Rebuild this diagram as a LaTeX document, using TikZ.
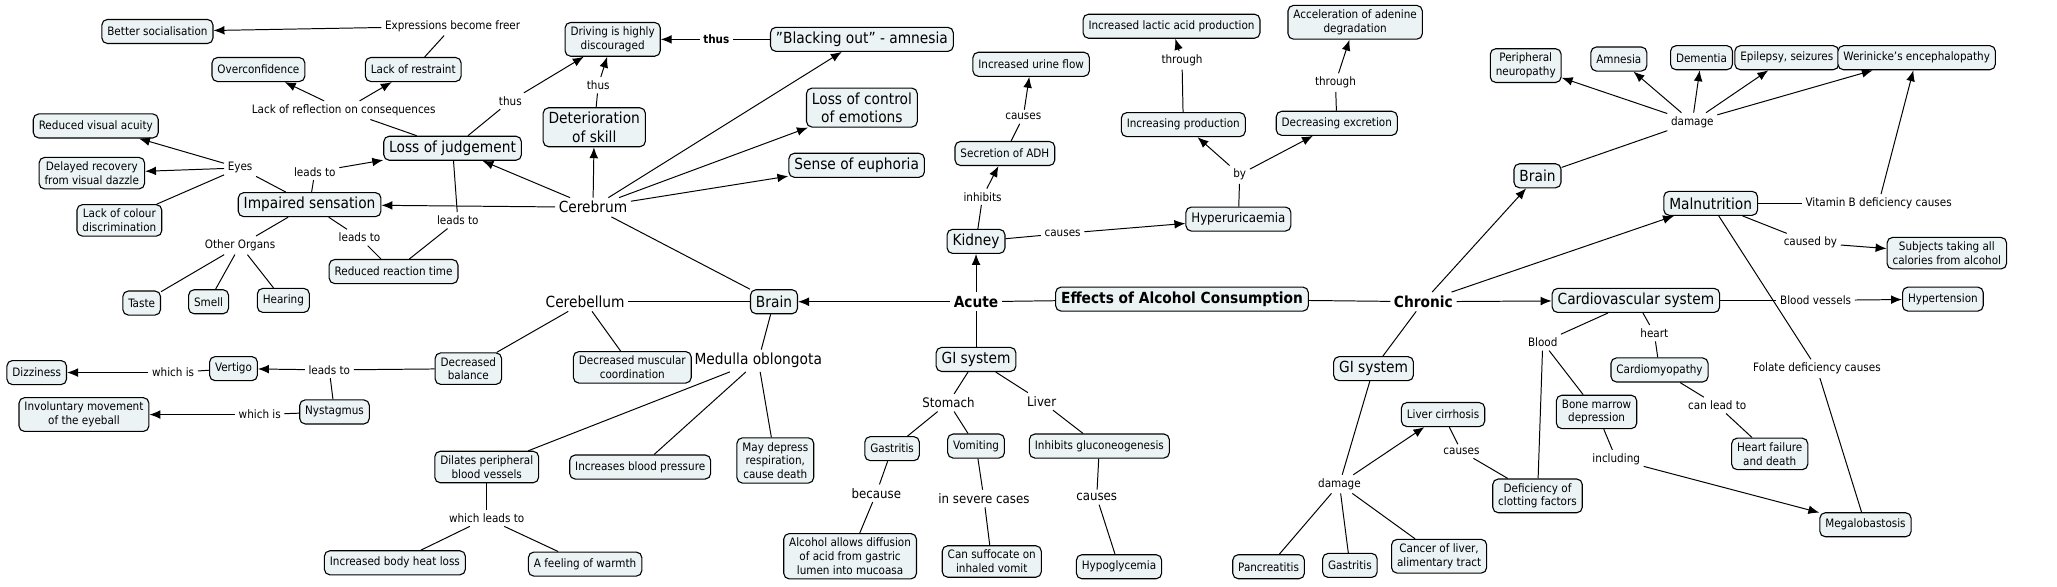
\documentclass[tikz,border=0pt]{standalone}
\usepackage{fontspec}
\setmainfont{DejaVu Sans Condensed}
\usetikzlibrary{arrows.meta}
\begin{document}
\begin{tikzpicture}[x=0.6pt,y=-0.6pt,
 box/.style={draw,rounded corners=2.5pt,fill={rgb,255:red,236;green,243;blue,245},font=\fontsize{5.3}{6.3}\selectfont,align=center,inner xsep=2.5pt,inner ysep=2pt,minimum height=11pt,line width=0.5pt},
 bigbox/.style={box,font=\fontsize{7}{8.4}\selectfont},
 lab/.style={font=\fontsize{5.3}{6.3}\selectfont,inner sep=1.5pt,align=center},
 biglab/.style={lab,font=\fontsize{7}{8.4}\selectfont},
 ln/.style={line width=0.45pt},
 ar/.style={ln,-{Latex[length=5pt,width=4pt]}}]
\useasboundingbox (0,0) rectangle (1568,447);
% left top
\node[box] (bs) at (120,24) {Better socialisation};
\node[lab] (lexpr) at (345,20) {Expressions become freer};
\node[box] (oc) at (197,53) {Overconfidence};
\node[box] (lr) at (315,53) {Lack of restraint};
\node[lab] (lrefl) at (262,84) {Lack of reflection on consequences};
\node[box] (rva) at (73,96) {Reduced visual acuity};
\node[box] (dr) at (70,132) {Delayed recovery\\from visual dazzle};
\node[box] (lcd) at (91,168) {Lack of colour\\discrimination};
\node[lab] (leyes) at (183,128) {Eyes};
\node[bigbox] (is) at (236,156) {Impaired sensation};
\node[lab] (ll1) at (240,131) {leads to};
\node[bigbox] (lj) at (345,113) {Loss of judgement};
\node[lab] (ll3) at (349,168) {leads to};
\node[lab] (ll2) at (274,181) {leads to};
\node[box] (rrt) at (300,207) {Reduced reaction time};
\node[lab] (lother) at (183,187) {Other Organs};
\node[box] (taste) at (108,231) {Taste};
\node[box] (smell) at (159,230) {Smell};
\node[box] (hearing) at (216,229) {Hearing};
\node[box] (dhd) at (467,30) {Driving is highly\\discouraged};
\node[lab] (th1) at (389,77) {thus};
\node[bigbox] (dos) at (453,97) {Deterioration\\of skill};
\node[lab] (th2) at (456,65) {thus};
\node[bigbox] (bo) at (657,30) {"Blacking out" - amnesia};
\node[lab,font=\fontsize{5.3}{6.3}\selectfont\bfseries] (th3) at (546,30) {thus};
\node[bigbox] (lce) at (657,82) {Loss of control\\of emotions};
\node[bigbox] (se) at (653,126) {Sense of euphoria};
\node[biglab] (cer) at (452,158) {Cerebrum};
% brain left
\node[bigbox] (brainL) at (590,230) {Brain};
\node[biglab] (cbl) at (446,230) {Cerebellum};
\node[biglab] (med) at (578,275) {Medulla oblongota};
\node[box] (db) at (357,281) {Decreased\\balance};
\node[box] (dmc) at (482,280) {Decreased muscular\\coordination};
\node[box] (vert) at (178,281) {Vertigo};
\node[lab] (ll4) at (251,282) {leads to};
\node[box] (dizz) at (28,284) {Dizziness};
\node[lab] (wi1) at (132,284) {which is};
\node[box] (nys) at (255,314) {Nystagmus};
\node[box] (inv) at (64,316) {Involuntary movement\\of the eyeball};
\node[lab] (wi2) at (198,316) {which is};
\node[box] (dil) at (371,356) {Dilates peripheral\\blood vessels};
\node[box] (ibp) at (488,356) {Increases blood pressure};
\node[box] (mdr) at (591,351) {May depress\\respiration,\\cause death};
\node[lab] (wlt) at (371,395) {which leads to};
\node[box] (hl) at (301,429) {Increased body heat loss};
\node[box] (fw) at (446,430) {A feeling of warmth};
% center
\node[biglab,font=\fontsize{7}{8.4}\selectfont\bfseries] (acute) at (744,230) {Acute};
\node[bigbox,font=\fontsize{7}{8.4}\selectfont\bfseries] (eff) at (901,228) {Effects of Alcohol Consumption};
\node[biglab,font=\fontsize{7}{8.4}\selectfont\bfseries] (chr) at (1085,230) {Chronic};
\node[bigbox] (gia) at (744,274) {GI system};
\node[biglab,font=\fontsize{6}{7}\selectfont] (stom) at (723,307) {Stomach};
\node[biglab,font=\fontsize{6}{7}\selectfont] (liv) at (794,306) {Liver};
\node[box] (gas) at (680,342) {Gastritis};
\node[box] (vom) at (744,340) {Vomiting};
\node[box] (inh) at (838,340) {Inhibits gluconeogenesis};
\node[biglab,font=\fontsize{6}{7}\selectfont] (bec) at (668,376) {because};
\node[biglab,font=\fontsize{6}{7}\selectfont] (sev) at (750,380) {in severe cases};
\node[biglab,font=\fontsize{6}{7}\selectfont] (cau) at (836,379) {causes};
\node[box] (alc) at (648,424) {Alcohol allows diffusion\\of acid from gastric\\lumen into mucoasa};
\node[box] (suf) at (756,428) {Can suffocate on\\inhaled vomit};
\node[box] (hypo) at (853,432) {Hypoglycemia};
\node[bigbox] (kid) at (744,184) {Kidney};
\node[lab] (inhl) at (749,150) {inhibits};
\node[box] (adh) at (766,117) {Secretion of ADH};
\node[lab] (cau1) at (780,89) {causes};
\node[box] (urine) at (786,49) {Increased urine flow};
\node[lab] (cau2) at (810,178) {causes};
\node[bigbox,font=\fontsize{6}{7.2}\selectfont] (hyp) at (944,167) {Hyperuricaemia};
\node[lab] (by) at (945,133) {by};
\node[box] (ip) at (902,95) {Increasing production};
\node[box] (de) at (1019,94) {Decreasing excretion};
\node[lab] (thr1) at (901,46) {through};
\node[lab] (thr2) at (1018,63) {through};
\node[box] (lac) at (893,20) {Increased lactic acid production};
\node[box] (ade) at (1033,17) {Acceleration of adenine\\degradation};
% right
\node[bigbox] (brainR) at (1172,134) {Brain};
\node[lab] (dam) at (1290,93) {damage};
\node[box] (per) at (1163,50) {Peripheral\\neuropathy};
\node[box] (amn) at (1234,45) {Amnesia};
\node[box] (dem) at (1297,44) {Dementia};
\node[box] (epi) at (1362,44) {Epilepsy, seizures};
\node[box] (wer) at (1461,44) {Werinicke's encephalopathy};
\node[bigbox] (mal) at (1304,155) {Malnutrition};
\node[lab] (vit) at (1432,155) {Vitamin B deficiency causes};
\node[lab] (cby) at (1380,185) {caused by};
\node[box] (sub) at (1484,193) {Subjects taking all\\calories from alcohol};
\node[bigbox] (card) at (1247,229) {Cardiovascular system};
\node[lab] (bv) at (1384,229) {Blood vessels};
\node[box] (hyt) at (1481,228) {Hypertension};
\node[lab] (blood) at (1176,261) {Blood};
\node[lab] (heart) at (1261,254) {heart};
\node[box] (cmy) at (1265,282) {Cardiomyopathy};
\node[lab] (fol) at (1385,281) {Folate deficiency causes};
\node[lab] (cl) at (1309,309) {can lead to};
\node[box] (hf) at (1349,346) {Heart failure\\and death};
\node[box] (bmd) at (1217,314) {Bone marrow\\depression};
\node[lab] (incl) at (1232,350) {including};
\node[box] (dcf) at (1172,378) {Deficiency of\\clotting factors};
\node[box] (meg) at (1422,400) {Megalobastosis};
\node[bigbox] (gic) at (1047,281) {GI system};
\node[box] (lcr) at (1100,316) {Liver cirrhosis};
\node[lab] (cau3) at (1114,344) {causes};
\node[lab] (dam2) at (1021,369) {damage};
\node[box] (pan) at (967,432) {Pancreatitis};
\node[box] (gas2) at (1029,431) {Gastritis};
\node[box] (can) at (1097,424) {Cancer of liver,\\alimentary tract};
% edges left
\foreach \t in {is,lj,dos,bo,lce,se} \draw[ar] (cer) -- (\t);
\draw[ln] (cer) -- (brainL);
\draw[ar] (acute) -- (brainL);
\draw[ln] (acute) -- (eff); \draw[ln] (eff) -- (chr);
\draw[ar] (acute) -- (kid); \draw[ln] (acute) -- (gia);
\draw[ln] (cbl) -- (brainL); \draw[ln] (med) -- (brainL);
\draw[ln] (dos) -- (th2); \draw[ar] (th2) -- (dhd);
\draw[ln] (lj) -- (th1); \draw[ar] (th1) -- (dhd);
\draw[ln] (bo) -- (th3); \draw[ar] (th3) -- (dhd);
\draw[ln] (lj) -- (lrefl); \draw[ar] (lrefl) -- (oc); \draw[ar] (lrefl) -- (lr);
\draw[ln] (lr) -- (lexpr); \draw[ar] (lexpr) -- (bs);
\draw[ln] (is) -- (ll1); \draw[ar] (ll1) -- (lj);
\draw[ln] (is) -- (leyes); \draw[ar] (leyes) -- (rva); \draw[ar] (leyes) -- (dr); \draw[ln] (leyes) -- (lcd);
\draw[ln] (is) -- (lother); \foreach \t in {taste,smell,hearing} \draw[ln] (lother) -- (\t);
\draw[ln] (is) -- (ll2) -- (rrt); \draw[ln] (lj) -- (ll3) -- (rrt);
\draw[ln] (cbl) -- (db); \draw[ln] (cbl) -- (dmc);
\draw[ln] (db) -- (ll4); \draw[ar] (ll4) -- (vert); \draw[ln] (ll4) -- (nys);
\draw[ln] (vert) -- (wi1); \draw[ar] (wi1) -- (dizz);
\draw[ln] (nys) -- (wi2); \draw[ar] (wi2) -- (inv);
\draw[ln] (med) -- (dil); \draw[ln] (med) -- (ibp); \draw[ln] (med) -- (mdr);
\draw[ln] (dil) -- (wlt); \draw[ln] (wlt) -- (hl); \draw[ln] (wlt) -- (fw);
\draw[ln] (gia) -- (stom); \draw[ln] (gia) -- (liv);
\draw[ln] (stom) -- (gas); \draw[ln] (stom) -- (vom); \draw[ln] (liv) -- (inh);
\draw[ln] (gas) -- (bec) -- (alc); \draw[ln] (vom) -- (sev) -- (suf); \draw[ln] (inh) -- (cau) -- (hypo);
\draw[ln] (kid) -- (inhl); \draw[ar] (inhl) -- (adh);
\draw[ln] (adh) -- (cau1); \draw[ar] (cau1) -- (urine);
\draw[ln] (kid) -- (cau2); \draw[ar] (cau2) -- (hyp);
\draw[ln] (hyp) -- (by); \draw[ar] (by) -- (ip); \draw[ar] (by) -- (de);
\draw[ln] (ip) -- (thr1); \draw[ar] (thr1) -- (lac);
\draw[ln] (de) -- (thr2); \draw[ar] (thr2) -- (ade);
% right
\draw[ar] (chr) -- (brainR); \draw[ar] (chr) -- (mal); \draw[ar] (chr) -- (card); \draw[ln] (chr) -- (gic);
\draw[ln] (brainR) -- (dam); \foreach \t in {per,amn,dem,epi,wer} \draw[ar] (dam) -- (\t);
\draw[ln] (mal) -- (vit); \draw[ar] (vit) -- (wer);
\draw[ln] (mal) -- (cby); \draw[ar] (cby) -- (sub);
\draw[ln] (mal) -- (fol) -- (meg);
\draw[ln] (card) -- (bv); \draw[ar] (bv) -- (hyt);
\draw[ln] (card) -- (blood); \draw[ln] (blood) -- (bmd); \draw[ln] (blood) -- (dcf);
\draw[ln] (card) -- (heart) -- (cmy);
\draw[ln] (cmy) -- (cl) -- (hf);
\draw[ln] (bmd) -- (incl); \draw[ar] (incl) -- (meg);
\draw[ln] (gic) -- (dam2); \draw[ar] (dam2) -- (lcr);
\foreach \t in {pan,gas2,can} \draw[ln] (dam2) -- (\t);
\draw[ln] (lcr) -- (cau3) -- (dcf);
\end{tikzpicture}
\end{document}
